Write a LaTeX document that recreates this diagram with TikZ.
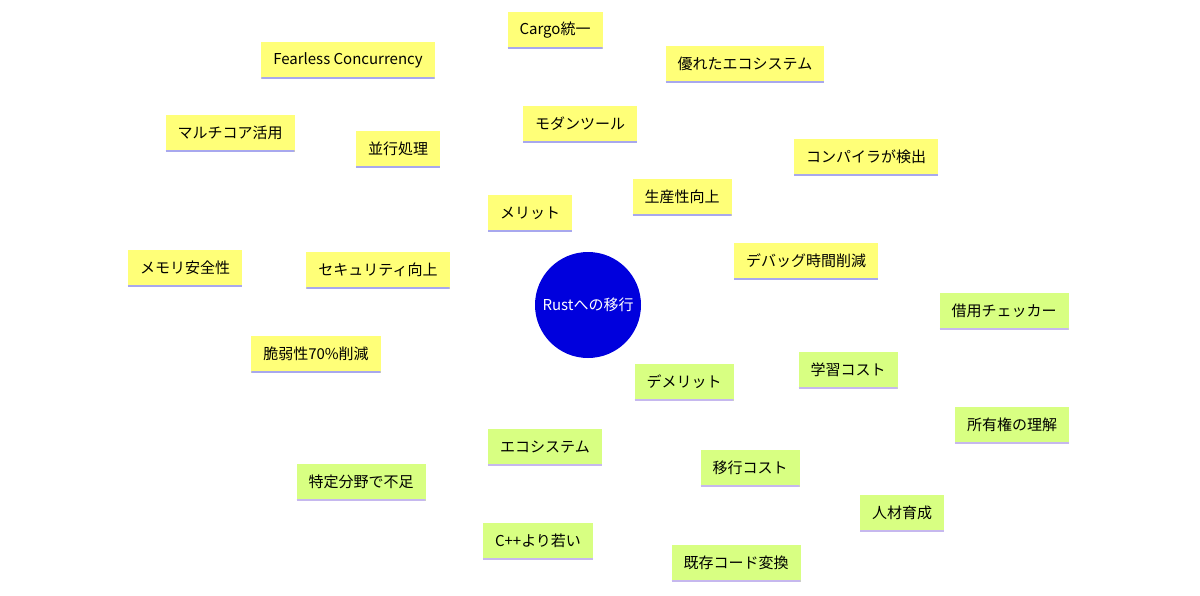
\documentclass[tikz,border=0pt]{standalone}
\usepackage{fontspec}
\setmainfont{Noto Sans CJK JP}
\usetikzlibrary{backgrounds}
\definecolor{yfill}{HTML}{FFFF78}
\definecolor{gfill}{HTML}{D8FF82}
\definecolor{yline}{HTML}{A8A8EE}
\definecolor{gline}{HTML}{C6B8EE}
\definecolor{rootc}{HTML}{0000DD}
\tikzset{
  base/.style={rectangle,minimum height=37pt,inner xsep=12pt,font=\fontsize{15}{18}\selectfont},
  ybox/.style={base,fill=yfill,path picture={\draw[line width=3pt,yline] (path picture bounding box.south west)--(path picture bounding box.south east);}},
  gbox/.style={base,fill=gfill,path picture={\draw[line width=3pt,gline] (path picture bounding box.south west)--(path picture bounding box.south east);}},
  ye1/.style={draw=yfill,line width=11pt},
  ye2/.style={draw=yfill,line width=8pt},
  ge1/.style={draw=gfill,line width=11pt},
  ge2/.style={draw=gfill,line width=8pt},
}
\begin{document}
\begin{tikzpicture}[x=1pt,y=-1pt]
\useasboundingbox[fill=white] (0,0) rectangle (1200,595);
\node[circle,fill=rootc,minimum size=106pt,text=white,font=\fontsize{15}{18}\selectfont] (root) at (588,305) {Rustへの移行};
\node[ybox] (m) at (530,213) {メリット};
\node[ybox] (mt) at (580,124) {モダンツール};
\node[ybox] (cargo) at (555,30) {Cargo統一};
\node[ybox] (eco1) at (745,64) {優れたエコシステム};
\node[ybox] (prod) at (682,197) {生産性向上};
\node[ybox] (comp) at (866,157) {コンパイラが検出};
\node[ybox] (debug) at (806,261) {デバッグ時間削減};
\node[ybox] (conc) at (398,149) {並行処理};
\node[ybox] (fear) at (348,60) {Fearless Concurrency};
\node[ybox] (multi) at (230,133) {マルチコア活用};
\node[ybox] (sec) at (378,270) {セキュリティ向上};
\node[ybox] (mem) at (185,268) {メモリ安全性};
\node[ybox] (vul) at (316,354) {脆弱性70\%削減};
\node[gbox] (d) at (684,382) {デメリット};
\node[gbox] (learn) at (848,370) {学習コスト};
\node[gbox] (borrow) at (1004,311) {借用チェッカー};
\node[gbox] (own) at (1012,425) {所有権の理解};
\node[gbox] (eco2) at (545,447) {エコシステム};
\node[gbox] (spec) at (361,482) {特定分野で不足};
\node[gbox] (young) at (538,541) {C++より若い};
\node[gbox] (mig) at (750,468) {移行コスト};
\node[gbox] (hr) at (902,513) {人材育成};
\node[gbox] (conv) at (736,563) {既存コード変換};
\begin{scope}[on background layer]
\draw[ye1] (root) -- (m);
\draw[ye2] (m) -- (mt); \draw[ye2] (mt) -- (cargo); \draw[ye2] (mt) -- (eco1);
\draw[ye2] (m) -- (prod); \draw[ye2] (prod) -- (comp); \draw[ye2] (prod) -- (debug);
\draw[ye2] (m) -- (conc); \draw[ye2] (conc) -- (fear); \draw[ye2] (conc) -- (multi);
\draw[ye2] (m) -- (sec); \draw[ye2] (sec) -- (mem); \draw[ye2] (sec) -- (vul);
\draw[ge1] (root) -- (d);
\draw[ge2] (d) -- (learn); \draw[ge2] (learn) -- (borrow); \draw[ge2] (learn) -- (own);
\draw[ge2] (d) -- (eco2); \draw[ge2] (eco2) -- (spec); \draw[ge2] (eco2) -- (young);
\draw[ge2] (d) -- (mig); \draw[ge2] (mig) -- (hr); \draw[ge2] (mig) -- (conv);
\end{scope}
\end{tikzpicture}
\end{document}
